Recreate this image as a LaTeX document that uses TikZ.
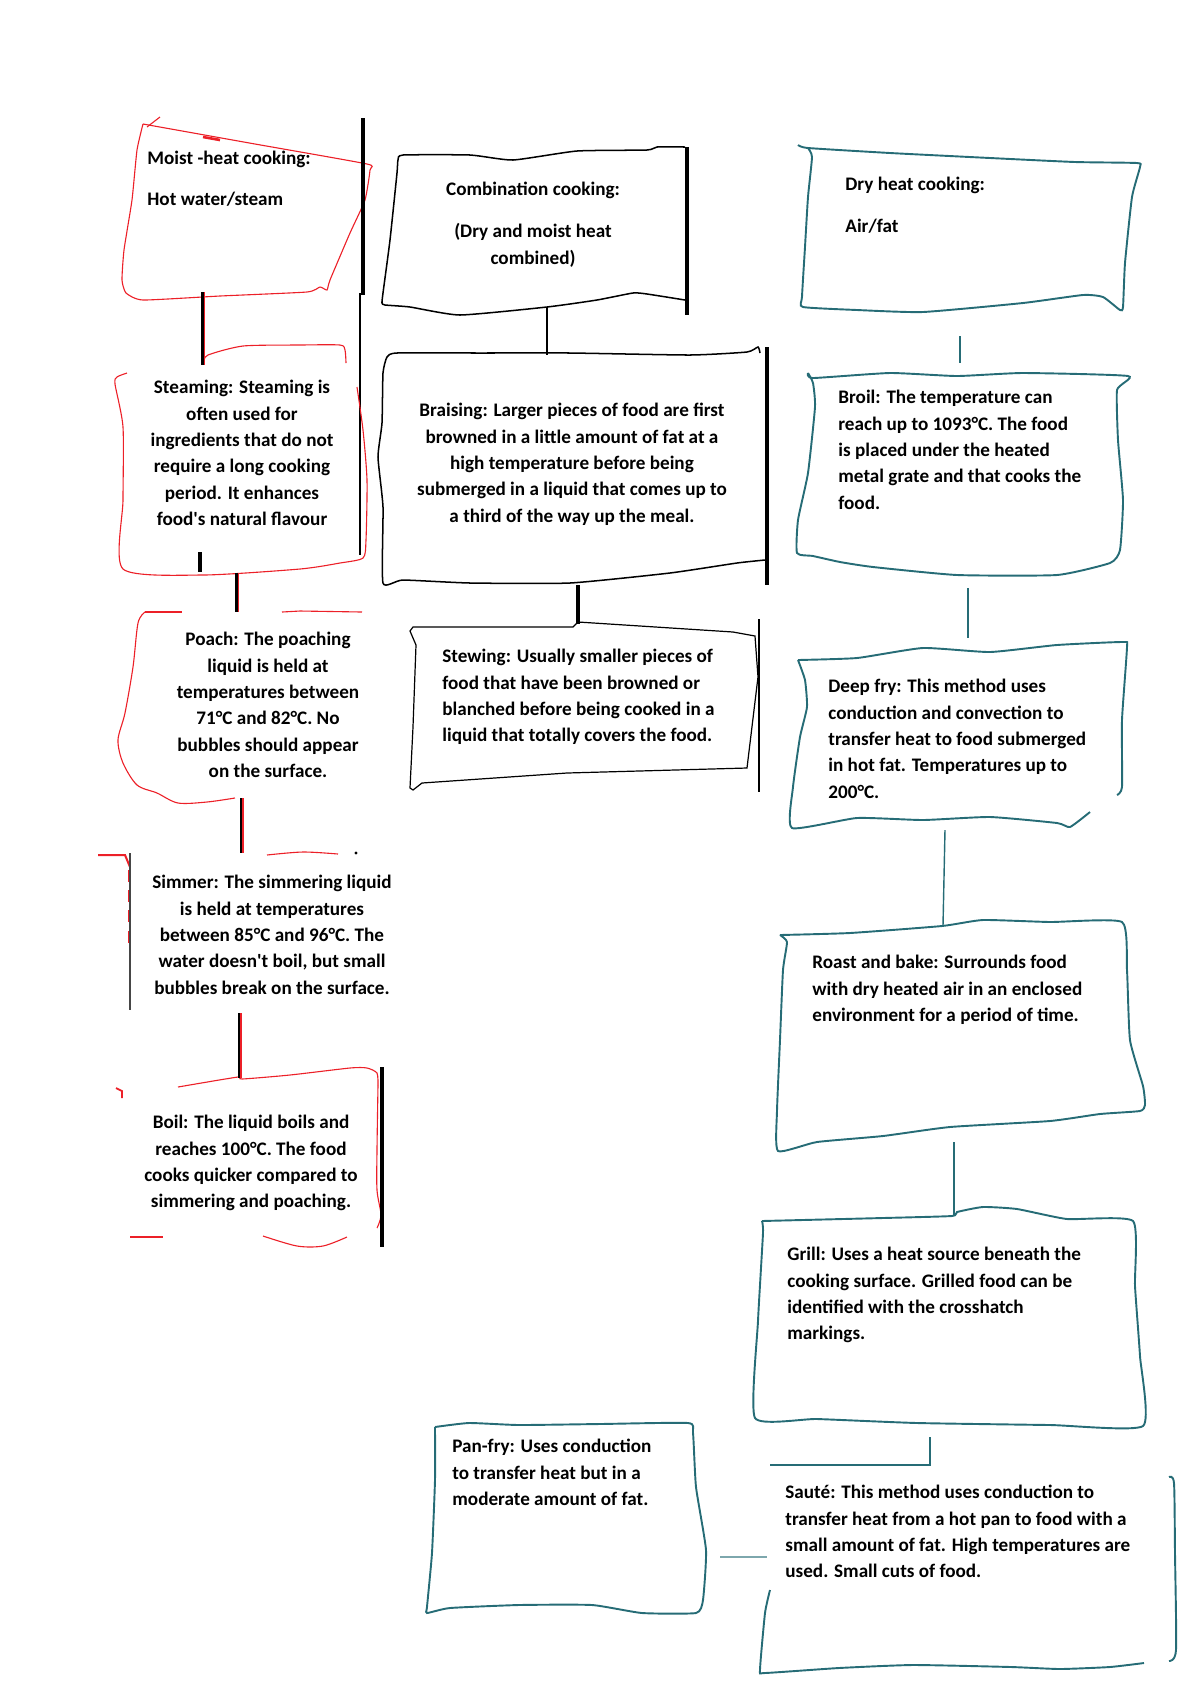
\documentclass[tikz,border=0pt]{standalone}
\usepackage{fontspec}
\setmainfont{Carlito}
\definecolor{moistred}{RGB}{236,32,40}
\definecolor{dryteal}{RGB}{38,108,118}
\definecolor{inkgray}{RGB}{70,70,70}
\tikzset{
  moistline/.style={draw=moistred, line width=0.55pt},
  dryline/.style={draw=dryteal, line width=0.95pt},
  combline/.style={draw=black, line width=0.75pt},
  heavybar/.style={draw=black, line width=2.4pt},
  stem/.style={draw=black, line width=1.9pt},
  drystem/.style={draw=dryteal, line width=0.7pt},
  txt/.style={inner sep=0pt, font=\fontsize{9.5}{13.05}\selectfont\bfseries},
  centretxt/.style={txt, align=center, anchor=north},
  lefttxt/.style={txt, align=left, anchor=north west},
}
\begin{document}
\begin{tikzpicture}[x=0.496pt,y=0.496pt,yscale=-1,xscale=1]
\useasboundingbox (0,0) rectangle (1200,1698);

\draw [moistline] plot [smooth, tension=0.3] coordinates {(143,124) (255,144) (367,164) (370,170) (365,200) (350,233) (330,280) (327,290) (320,287) (307,292) (220,296) (143,300) (126,293) (122,280) (124,250) (132,200) (137,150) (143,124)};
\draw [moistline] (147,127) -- (160,117);
\draw [moistline, line width=1.3pt] (203,137) -- (220,140);
\draw [heavybar] (363,118) -- (363,295);
\draw [combline, line width=1pt] (360,293) -- (360,555);

\draw [moistline] plot [smooth, tension=0.4] coordinates {(203,363) (208,355) (243,346) (300,345) (340,345) (345,350) (346,363)};
\draw [moistline] plot [smooth, tension=0.4] coordinates {(127,373) (117,377) (115,384) (123,427) (123,500) (123,569) (203,575) (300,569) (340,563) (363,558) (366,540) (367,480) (363,430) (357,387)};
\draw [stem] (200,552) -- (200,572);

\draw [moistline] (145,612) -- (182,612);
\draw [moistline] (282,612) -- (300,611) -- (362,612);
\draw [moistline] plot [smooth, tension=0.5] coordinates {(145,612) (138,623) (133,667) (125,713) (118,740) (123,763) (137,785) (157,793) (178,803) (207,802) (235,798)};

\draw [moistline, line width=1pt] (98,855) -- (125,855) -- (130,867);
\draw [moistline, line width=0.8pt, dash pattern=on 6pt off 4pt] (129,870) -- (129,945);
\draw [inkgray, line width=0.6pt] (130,853) -- (130,1010);
\draw [moistline] plot [smooth, tension=0.5] coordinates {(267,855) (303,852) (338,854)};
\fill (356,853) circle [radius=1.6];

\draw [moistline] plot [smooth, tension=0.4] coordinates {(178,1087) (238,1077) (242,1079) (290,1075) (350,1068) (367,1068) (377,1073) (378,1085)};
\draw [moistline] plot [smooth, tension=0.5] coordinates {(378,1085) (377,1150) (377,1190) (381,1215) (377,1228)};
\draw [heavybar] (382,1067) -- (382,1247);
\draw [moistline, line width=0.9pt] (116,1088) -- (122,1091) -- (122,1098);
\draw [moistline] (130,1237) -- (163,1237);
\draw [moistline] plot [smooth, tension=0.5] coordinates {(263,1236) (297,1246) (323,1246) (347,1237)};

\draw [combline] plot [smooth, tension=0.3] coordinates {(685,147) (657,147) (647,150) (577,151) (513,160) (470,155) (403,155) (398,160) (397,173) (390,240) (383,293) (382,303) (385,305) (410,307) (460,315) (547,307) (597,300) (633,293) (647,294) (685,300)};
\draw [heavybar] (687,147) -- (687,315);

\draw [combline] plot [smooth, tension=0.3] coordinates {(760,353) (758,347) (747,352) (690,355) (570,353) (480,353) (397,353) (387,357) (383,373) (382,423) (378,457) (383,507) (383,583) (403,580) (470,583) (570,583) (670,573) (737,563) (765,560)};
\draw [heavybar, line width=2pt] (767,347) -- (767,585);

\draw [combline, line width=0.6pt] (578,622) -- (573,627) -- (413,627) -- (410,631) -- (416,645) -- (413,727) -- (410,788) -- (413,790) -- (422,783) -- (567,773) -- (747,768) -- (758,677) -- (755,636) -- (733,632) -- cycle;
\draw [combline, line width=0.8pt] (759,619) -- (759,792);

\draw [dryline] plot [smooth, tension=0.3] coordinates {(798,145) (808,148) (890,153) (990,158) (1075,162) (1137,163) (1140,167) (1132,197) (1125,263) (1123,307) (1120,310) (1103,297) (1083,295) (1023,303) (923,312) (857,310) (803,307) (802,297) (805,247) (808,197) (812,157) (808,148)};

\draw [dryline] plot [smooth, tension=0.3] coordinates {(808,373) (813,378) (890,373) (957,376) (1023,373) (1128,376) (1117,390) (1118,440) (1123,500) (1120,550) (1110,563) (1057,575) (957,575) (873,567) (840,562) (813,556) (797,553) (798,520) (808,473) (815,407) (813,383) (808,373)};

\draw [dryline] plot [smooth, tension=0.3] coordinates {(798,660) (857,658) (923,648) (990,652) (1057,645) (1123,642) (1127,647) (1122,720) (1122,787) (1117,795)};
\draw [dryline] plot [smooth, tension=0.3] coordinates {(1090,812) (1070,827) (1057,823) (990,817) (923,820) (857,818) (792,828) (793,787) (800,737) (807,707) (805,680) (798,660)};

\draw [dryline] plot [smooth, tension=0.3] coordinates {(780,935) (850,933) (942,926) (983,920) (1050,922) (1122,922) (1127,970) (1130,1040) (1143,1086) (1145,1105) (1140,1111) (1100,1114) (1050,1121) (950,1127) (883,1136) (817,1142) (778,1151) (777,1111) (780,1040) (783,970) (787,942) (780,935)};

\draw [dryline] plot [smooth, tension=0.3] coordinates {(762,1221) (883,1218) (952,1216) (957,1212) (983,1207) (1017,1209) (1067,1219) (1133,1221) (1135,1286) (1140,1356) (1143,1426) (1050,1425) (917,1423) (817,1419) (755,1418) (758,1321) (763,1233) (762,1221)};

\draw [dryline] plot [smooth, tension=0.3] coordinates {(435,1427) (469,1423) (519,1425) (600,1424) (688,1423) (693,1433) (696,1487) (706,1550) (703,1600) (696,1613) (642,1613) (592,1605) (519,1605) (450,1608) (427,1613) (427,1607) (432,1553) (435,1480) (435,1427)};

\draw [dryline] plot [smooth, tension=0.3] coordinates {(770,1590) (765,1613) (760,1670) (765,1673) (839,1668) (913,1665) (1011,1667) (1060,1669) (1110,1667) (1144,1663)};
\draw [dryline] plot [smooth, tension=0.4] coordinates {(1169,1477) (1174,1483) (1175,1553) (1176,1650) (1169,1661)};

\coordinate (moist-s) at (203,292);
\coordinate (steam-n) at (203,365);
\coordinate (steam-s) at (237,573);
\coordinate (poach-n) at (237,612);
\coordinate (poach-s) at (242,798);
\coordinate (simmer-n) at (242,853);
\coordinate (simmer-s) at (240,1013);
\coordinate (boil-n) at (240,1078);
\coordinate (comb-s) at (547,307);
\coordinate (braise-n) at (547,355);
\coordinate (braise-s) at (578,585);
\coordinate (stew-n) at (578,624);
\coordinate (dry-s) at (960,336);
\coordinate (broil-n) at (960,363);
\coordinate (broil-s) at (968,588);
\coordinate (deep-n) at (968,638);
\coordinate (deep-s) at (945,830);
\coordinate (roast-n) at (943,926);
\coordinate (roast-s) at (954,1142);
\coordinate (grill-n) at (954,1216);
\coordinate (grill-s) at (930,1437);
\coordinate (saute-n) at (770,1465);
\coordinate (pan-e) at (720,1557);
\coordinate (saute-w) at (767,1557);

\draw [stem] (moist-s) -- (steam-n);
\draw [moistline, transform canvas={xshift=0.8pt}] (moist-s) -- (steam-n);
\draw [stem] (steam-s) -- (poach-n);
\draw [moistline, transform canvas={xshift=0.6pt}] (steam-s) -- (poach-n);
\draw [stem, line width=1.5pt] (poach-s) -- (simmer-n);
\draw [moistline, transform canvas={xshift=0.5pt}] (poach-s) -- (simmer-n);
\draw [stem, line width=1.5pt] (simmer-s) -- (boil-n);
\draw [moistline, transform canvas={xshift=0.5pt}] (simmer-s) -- (boil-n);
\draw [stem, line width=1pt] (comb-s) -- (braise-n);
\draw [stem] (braise-s) -- (stew-n);
\draw [drystem] (dry-s) -- (broil-n);
\draw [drystem] (broil-s) -- (deep-n);
\draw [drystem] (deep-s) -- (roast-n);
\draw [drystem] (roast-s) -- (grill-n);
\draw [drystem] (grill-s) |- (saute-n);
\draw [drystem, draw opacity=0.6] (pan-e) -- (saute-w);

\node (moisttxt) [lefttxt] at (147,151) {Moist -heat cooking:\\[7.3pt]Hot water/steam};
\node (combtxt) [centretxt] at (533,182) {Combination cooking:\\[7.8pt](Dry and moist heat\\combined)};
\node (drytxt) [lefttxt] at (845,177) {Dry heat cooking:\\[7.8pt]Air/fat};
\node (steamtxt) [centretxt] at (242,380) {Steaming: Steaming is\\often used for\\ingredients that do not\\require a long cooking\\period. It enhances\\food\textquotesingle s natural flavour};
\node (poachtxt) [centretxt] at (268,632) {Poach: The poaching\\liquid is held at\\temperatures between\\71°C and 82°C. No\\bubbles should appear\\on the surface.};
\node (simmertxt) [centretxt] at (272,875) {Simmer: The simmering liquid\\is held at temperatures\\between 85°C and 96°C. The\\water doesn\textquotesingle t boil, but small\\bubbles break on the surface.};
\node (boiltxt) [centretxt] at (251,1115) {Boil: The liquid boils and\\reaches 100°C. The food\\cooks quicker compared to\\simmering and poaching.};
\node (braisetxt) [centretxt] at (572,403) {Braising: Larger pieces of food are first\\browned in a little amount of fat at a\\high temperature before being\\submerged in a liquid that comes up to\\a third of the way up the meal.};
\node (stewtxt) [lefttxt] at (442,649) {Stewing: Usually smaller pieces of\\food that have been browned or\\blanched before being cooked in a\\liquid that totally covers the food.};
\node (broiltxt) [lefttxt] at (838,390) {Broil: The temperature can\\reach up to 1093°C. The food\\is placed under the heated\\metal grate and that cooks the\\food.};
\node (deeptxt) [lefttxt] at (828,679) {Deep fry: This method uses\\conduction and convection to\\transfer heat to food submerged\\in hot fat. Temperatures up to\\200°C.};
\node (roasttxt) [lefttxt] at (812,955) {Roast and bake: Surrounds food\\with dry heated air in an enclosed\\environment for a period of time.};
\node (grilltxt) [lefttxt] at (787,1247) {Grill: Uses a heat source beneath the\\cooking surface. Grilled food can be\\identified with the crosshatch\\markings.};
\node (pantxt) [lefttxt] at (452,1439) {Pan-fry: Uses conduction\\to transfer heat but in a\\moderate amount of fat.};
\node (sautetxt) [lefttxt] at (785,1485) {Sauté: This method uses conduction to\\transfer heat from a hot pan to food with a\\small amount of fat. High temperatures are\\used. Small cuts of food.};
\end{tikzpicture}
\end{document}
